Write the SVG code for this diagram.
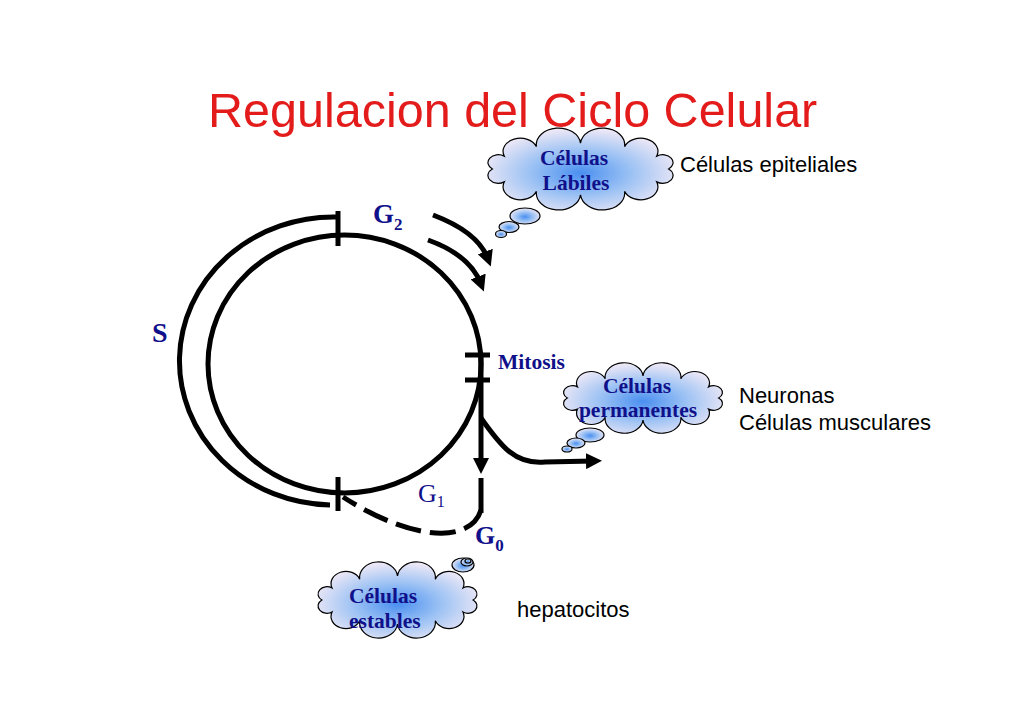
<svg xmlns="http://www.w3.org/2000/svg" width="1030" height="728" viewBox="0 0 1030 728">
<style>
.ln{fill:none;stroke:#000;stroke-width:5}
.tick{stroke:#000;stroke-width:5}
.cl{fill:url(#cg);stroke:#000;stroke-width:1.2}
.lbl{font-family:"Liberation Serif","Times New Roman",serif;fill:#10108a}
.b{font-weight:bold}
.txt{font-family:"Liberation Sans",Arial,sans-serif;fill:#000;font-size:22px}
.title{font-family:"Liberation Sans",Arial,sans-serif;fill:#e31b1b;font-size:48.5px}
</style>
<defs>
<radialGradient id="cg" cx="0.5" cy="0.55" r="0.55">
<stop offset="0" stop-color="#4a8ff0"/>
<stop offset="0.5" stop-color="#9cc2f4"/>
<stop offset="1" stop-color="#efe9f6"/>
</radialGradient>
<path id="cloud" vector-effect="non-scaling-stroke" d="M 78 0 A 1 1 0 0 1 67.5 15 A 1 1 0 0 1 39 26 A 1 1 0 0 1 0 30 A 1 1 0 0 1 -39 26 A 1 1 0 0 1 -67.5 15 A 1 1 0 0 1 -78 0 A 1 1 0 0 1 -67.5 -15 A 1 1 0 0 1 -39 -26 A 1 1 0 0 1 0 -30 A 1 1 0 0 1 39 -26 A 1 1 0 0 1 67.5 -15 A 1 1 0 0 1 78 0 Z"/>
<marker id="ah" viewBox="0 0 10 10" refX="5" refY="5" markerWidth="16" markerHeight="16" markerUnits="userSpaceOnUse" orient="auto">
<path d="M0,0 L10,5 L0,10 z" fill="#000"/>
</marker>
</defs>
<rect width="1030" height="728" fill="#fff"/>
<text id="title" class="title" x="208" y="127">Regulacion del Ciclo Celular</text>

<g id="cycle">
<ellipse class="ln" cx="344.5" cy="364" rx="136.5" ry="129"/>
<path class="ln" d="M 337 217 A 154 144 0 0 0 330 505"/>
<line class="tick" x1="338" y1="211" x2="338" y2="246"/>
<line class="tick" x1="338" y1="477" x2="338" y2="511"/>
<line class="tick" x1="465" y1="355" x2="490" y2="355"/>
<line class="tick" x1="465" y1="380" x2="490" y2="380"/>
<line class="tick" x1="481" y1="353" x2="481" y2="382"/>
</g>

<g id="connectors">
<path class="ln" d="M 433 215 Q 478 232 488 259" marker-end="url(#ah)"/>
<path class="ln" d="M 428 240 Q 470 255 481 284" marker-end="url(#ah)"/>
<path class="ln" d="M 481 378 L 481 466" marker-end="url(#ah)"/>
<path class="ln" d="M 481 418 C 500 445 515 465 545 462 L 594 461" marker-end="url(#ah)"/>
<line class="tick" x1="481" y1="478" x2="481" y2="513"/>
<path class="ln" d="M 481 510 C 470 545 410 540 343 497" stroke-dasharray="26 9"/>
</g>

<g id="label-S"><text class="lbl b" x="152" y="342" font-size="28">S</text></g>
<g id="label-G2"><text class="lbl b" x="373" y="223" font-size="27">G<tspan font-size="17" dy="7">2</tspan></text></g>
<g id="label-mitosis"><text class="lbl b" x="498" y="369" font-size="21.5">Mitosis</text></g>
<g id="label-G1"><text class="lbl" x="418" y="502" font-size="26">G<tspan font-size="16" dy="5">1</tspan></text></g>
<g id="label-G0"><text class="lbl b" x="475" y="544" font-size="26">G<tspan font-size="17" dy="7">0</tspan></text></g>

<g id="cloud-labiles">
<use href="#cloud" class="cl" transform="translate(580.5 169) scale(1.13 0.86)"/>
<ellipse class="cl" cx="525" cy="216" rx="15" ry="8"/>
<ellipse class="cl" cx="509" cy="227" rx="10" ry="5.5"/>
<ellipse class="cl" cx="501" cy="234" rx="5.5" ry="3.5"/>
<text class="lbl b" x="574" y="165" font-size="21.5" text-anchor="middle">Células</text>
<text class="lbl b" x="576" y="190" font-size="21.5" text-anchor="middle">Lábiles</text>
</g>
<g id="text-epiteliales"><text class="txt" x="680" y="172">Células epiteliales</text></g>

<g id="cloud-permanentes">
<use href="#cloud" class="cl" transform="translate(643 398) scale(0.97 0.74)"/>
<ellipse class="cl" cx="590" cy="435" rx="14" ry="7"/>
<ellipse class="cl" cx="576" cy="443" rx="9" ry="5"/>
<ellipse class="cl" cx="567" cy="449" rx="5" ry="3"/>
<text class="lbl b" x="637" y="393" font-size="21.5" text-anchor="middle">Células</text>
<text class="lbl b" x="638" y="417" font-size="21.5" text-anchor="middle">permanentes</text>
</g>
<g id="text-neuronas">
<text class="txt" x="739" y="403">Neuronas</text>
<text class="txt" x="739" y="430">Células musculares</text>
</g>

<g id="cloud-estables">
<use href="#cloud" class="cl" transform="translate(397.5 600) scale(0.97 0.8)"/>
<ellipse class="cl" cx="463" cy="565" rx="11" ry="7"/>
<ellipse class="cl" cx="467" cy="562" rx="6" ry="4"/>
<ellipse class="cl" cx="468" cy="561" rx="3" ry="2"/>
<text class="lbl b" x="349" y="603" font-size="21.5">Células</text>
<text class="lbl b" x="349" y="628" font-size="21.5">estables</text>
</g>
<g id="text-hepatocitos"><text class="txt" x="517" y="617">hepatocitos</text></g>
</svg>
